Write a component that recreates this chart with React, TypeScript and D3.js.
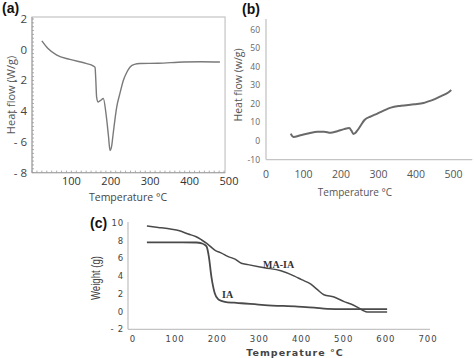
import React from 'react';
import * as d3 from 'd3';

// (a) DSC curve
const tempA = [25, 40, 63, 96, 139, 155, 160, 162, 164, 168, 174, 181, 188, 194, 198, 202, 206, 215, 223, 232, 240, 249, 260, 274, 320, 384, 430, 477];
const heatA = [0.58, 0.1, -0.35, -0.63, -0.9, -1.05, -1.15, -2.0, -3.08, -3.4, -3.3, -3.18, -4.2, -5.6, -6.56, -6.3, -5.47, -3.73, -2.86, -1.99, -1.5, -1.12, -0.95, -0.9, -0.88, -0.8, -0.78, -0.8];
const aXTicks = [100, 200, 300, 400, 500];
const aYTicks = [2, 0, -2, -4, -6, -8];

// (b) DSC curve
const tempB = [66, 70, 73, 92, 115, 137, 155, 172, 190, 208, 222, 228, 233, 238, 244, 253, 262, 280, 297, 315, 333, 360, 396, 420, 431, 450, 467, 485, 494];
const heatB = [4.0, 2.6, 2.2, 3.1, 4.2, 5.0, 5.0, 4.4, 5.3, 6.4, 7.0, 5.5, 3.8, 4.3, 5.8, 8.5, 11.2, 13.3, 14.8, 16.5, 18.0, 19.0, 19.8, 20.5, 21.2, 22.6, 24.2, 26.0, 27.5];
const bXTicks = [0, 100, 200, 300, 400, 500];
const bYTicks = [-10, 0, 10, 20, 30, 40, 50, 60];

// (c) TGA curves
const tempMAIA = [33, 60, 92, 108, 131, 150, 163, 175, 194, 210, 226, 241, 257, 273, 312, 351, 383, 400, 422, 437, 453, 477, 501, 517, 532, 545, 556, 580, 603];
const weightMAIA = [9.66, 9.5, 9.29, 9.15, 8.76, 8.45, 8.08, 7.7, 6.95, 6.6, 6.2, 5.95, 5.45, 5.3, 4.95, 4.6, 4.0, 3.6, 3.1, 2.5, 1.9, 1.65, 1.12, 0.85, 0.5, 0.15, -0.05, -0.05, -0.05];
const tempIA = [33, 100, 150, 163, 170, 175, 180, 186, 194, 202, 210, 218, 240, 257, 312, 391, 430, 461, 500, 540, 603];
const weightIA = [7.82, 7.82, 7.8, 7.7, 7.55, 7.3, 6.2, 3.95, 2.07, 1.4, 1.2, 1.1, 1.0, 0.94, 0.74, 0.56, 0.45, 0.3, 0.28, 0.28, 0.28];
const cXTicks = [0, 100, 200, 300, 400, 500, 600, 700];
const cYTicks = [-2, 0, 2, 4, 6, 8, 10];

const zip = (xs: number[], ys: number[]) => xs.map((x, i) => [x, ys[i]] as [number, number]);

const PanelA = () => {
  const x = d3.scaleLinear().domain([0, 500]).range([32, 229]);
  const y = d3.scaleLinear().domain([-8, 2]).range([172.6, 19]);
  const line = d3.line<[number, number]>().x(d => x(d[0])).y(d => y(d[1])).curve(d3.curveMonotoneX);
  const right = x(490);
  const minorX = d3.range(0, 490, 12.5);
  const minorY = d3.range(-8, 2.01, 0.25);
  return (
    <g fontFamily="'Open Sans', sans-serif">
      <text x={2} y={13} fontFamily="'Liberation Sans', Arial, sans-serif" fontWeight="bold" fontSize={14} fill="#111">(a)</text>
      <rect x={x(0)} y={y(2) - 2} width={right - x(0)} height={y(-8) - y(2) + 2} fill="none" stroke="#c4c4c4" strokeWidth={1.2} />
      <line x1={x(0)} x2={x(0)} y1={y(2) - 2} y2={y(-8)} stroke="#aaa" strokeWidth={1.2} />
      <line x1={x(0)} x2={right} y1={y(-8)} y2={y(-8)} stroke="#aaa" strokeWidth={1.2} />
      {minorX.map(t => <line key={'mx' + t} x1={x(t)} x2={x(t)} y1={y(-8)} y2={y(-8) - 2} stroke="#999" strokeWidth={0.8} />)}
      {minorY.map(t => <line key={'my' + t} x1={x(0)} x2={x(0) + 2} y1={y(t)} y2={y(t)} stroke="#999" strokeWidth={0.8} />)}
      {aYTicks.map(t => (
        <text key={'ay' + t} x={27} y={y(t) + 4} textAnchor="end" fontSize={11.5} fill="#444">{t < 0 ? `- ${-t}` : t}</text>
      ))}
      {aXTicks.map(t => (
        <text key={'ax' + t} x={x(t)} y={185} textAnchor="middle" fontSize={11} fill="#333">{t}</text>
      ))}
      <text x={128} y={201} textAnchor="middle" fontSize={10.5} fill="#444">Temperature °C</text>
      <text transform={`translate(15,95) rotate(-90)`} textAnchor="middle" fontSize={11} fill="#555">Heat flow (W/g)</text>
      <path d={line(zip(tempA, heatA)) || ''} fill="none" stroke="#7a7a7a" strokeWidth={1.4} />
    </g>
  );
};

const PanelB = () => {
  const x = d3.scaleLinear().domain([0, 500]).range([266, 453.5]);
  const y = d3.scaleLinear().domain([-10, 60]).range([159.6, 29.6]);
  const line = d3.line<[number, number]>().x(d => x(d[0])).y(d => y(d[1])).curve(d3.curveMonotoneX);
  return (
    <g fontFamily="'Open Sans', sans-serif">
      <text x={242} y={14} fontFamily="'Liberation Sans', Arial, sans-serif" fontWeight="bold" fontSize={14} fill="#111">(b)</text>
      <line x1={x(0)} x2={x(0)} y1={19} y2={y(-10)} stroke="#c4c4c4" strokeWidth={1.3} />
      <line x1={x(0)} x2={x(550)} y1={y(-10)} y2={y(-10)} stroke="#c4c4c4" strokeWidth={1.3} />
      {bYTicks.map(t => (
        <text key={'by' + t} x={260} y={y(t) + 3} textAnchor="end" fontSize={8.5} fill="#666">{t}</text>
      ))}
      {bXTicks.map(t => (
        <text key={'bx' + t} x={x(t)} y={178} textAnchor="middle" fontSize={10.5} fill="#555">{t}</text>
      ))}
      <text x={355} y={196} textAnchor="middle" fontSize={10} fill="#555">Temperature °C</text>
      <text transform={`translate(242,85) rotate(-90)`} textAnchor="middle" fontSize={10.5} fill="#555">Heat flow (w/g)</text>
      <path d={line(zip(tempB, heatB)) || ''} fill="none" stroke="#6a6a6a" strokeWidth={2} />
    </g>
  );
};

const PanelC = () => {
  const x = d3.scaleLinear().domain([0, 700]).range([133, 428]);
  const y = d3.scaleLinear().domain([-2, 10]).range([329.3, 223]);
  const line = d3.line<[number, number]>().x(d => x(d[0])).y(d => y(d[1])).curve(d3.curveMonotoneX);
  return (
    <g fontFamily="'DejaVu Sans', Verdana, sans-serif">
      <text x={90} y={228} fontFamily="'Liberation Sans', Arial, sans-serif" fontWeight="bold" fontSize={14} fill="#111">(c)</text>
      <line x1={128} x2={128} y1={222} y2={y(-2)} stroke="#c4c4c4" strokeWidth={1.3} />
      <line x1={128} x2={430} y1={y(-2)} y2={y(-2)} stroke="#c4c4c4" strokeWidth={1.3} />
      {cYTicks.map(t => (
        <text key={'cy' + t} x={124} y={y(t) + 3} textAnchor="end" fontSize={8.5} letterSpacing={0.8} fill="#444">{t < 0 ? `- ${-t}` : t}</text>
      ))}
      {cXTicks.map(t => (
        <text key={'cx' + t} x={x(t)} y={342} textAnchor="middle" fontSize={8.5} letterSpacing={1} fill="#444">{t}</text>
      ))}
      <text x={295} y={356} textAnchor="middle" fontSize={9.5} letterSpacing={1} fontWeight="bold" fill="#444">Temperature °C</text>
      <text transform={`translate(100,278) rotate(-90) scale(0.8,1)`} textAnchor="middle" fontFamily="'Liberation Sans', Arial, sans-serif" fontSize={12} fill="#444">Weight (g)</text>
      <path d={line(zip(tempMAIA, weightMAIA)) || ''} fill="none" stroke="#4a4a4a" strokeWidth={1.5} />
      <path d={line(zip(tempIA, weightIA)) || ''} fill="none" stroke="#4a4a4a" strokeWidth={1.8} />
      <text x={263} y={268} fontFamily="'Liberation Serif', 'Times New Roman', serif" fontWeight="bold" fontSize={10} fill="#333">MA-IA</text>
      <text x={222} y={298} fontFamily="'Liberation Serif', 'Times New Roman', serif" fontWeight="bold" fontSize={10} fill="#333">IA</text>
    </g>
  );
};

const App = () => (
  <svg width={474} height={358} viewBox="0 0 474 358" style={{ position: 'fixed', left: 0, top: 0, background: '#fff' }}>
    <rect width={474} height={358} fill="#fff" />
    <PanelA />
    <PanelB />
    <PanelC />
  </svg>
);

export default App;
